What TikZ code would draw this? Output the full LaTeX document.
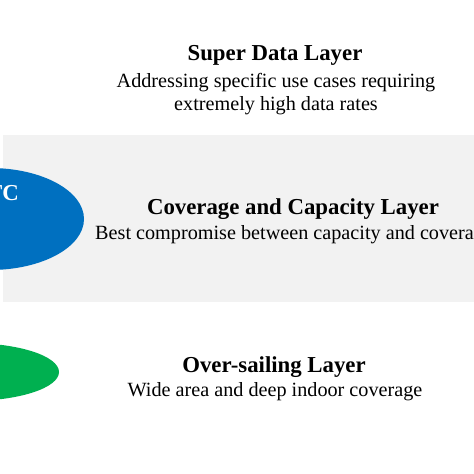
\documentclass[tikz,border=0pt]{standalone}
\usepackage{fontspec}
\setmainfont{Liberation Serif}
\definecolor{bandgray}{HTML}{F2F2F2}
\definecolor{layerblue}{HTML}{0070C0}
\definecolor{layergreen}{HTML}{00B050}
\begin{document}
\begin{tikzpicture}[x=1pt,y=-1pt,
  title/.style={font=\fontsize{22.8}{25}\selectfont\bfseries, inner sep=0pt},
  desc/.style={font=\fontsize{20.2}{23}\selectfont, inner sep=0pt}]
\useasboundingbox (0,0) rectangle (474,474);
\clip (0,0) rectangle (474,474);
\fill[white] (0,0) rectangle (474,474);
\fill[bandgray] (3,135) rectangle (474,302);
\fill[layerblue] (-10,219) ellipse [x radius=94, y radius=51];
\fill[layergreen] (-31,372) ellipse [x radius=90, y radius=29];
\node[title, text=white, anchor=east] (tc) at (19,193) {TC};
\node[title] (sdl) at (275,55) {Super Data Layer};
\node[desc] (sd1) at (276,83) {Addressing specific use cases requiring};
\node[desc] (sd2) at (276,106) {extremely high data rates};
\node[title] (ccl) at (293,209) {Coverage and Capacity Layer};
\node[desc, anchor=west] (cc1) at (95,235) {Best compromise between capacity and coverage};
\node[title] (osl) at (274,367) {Over-sailing Layer};
\node[desc] (os1) at (275,392) {Wide area and deep indoor coverage};
\end{tikzpicture}
\end{document}
